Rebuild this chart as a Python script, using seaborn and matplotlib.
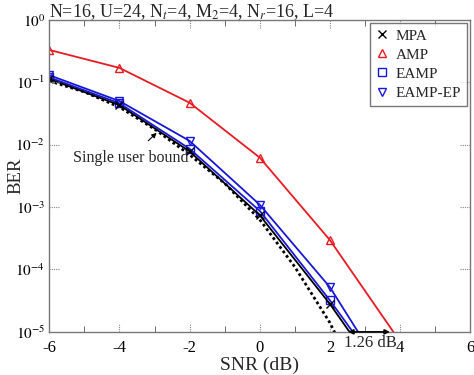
import matplotlib
matplotlib.use("Agg")
import matplotlib.pyplot as plt
from matplotlib.lines import Line2D
import seaborn as sns
import pandas as pd

snr = [-6, -4, -2, 0, 2, 4]
mpa = [0.113, 0.043, 0.0078, 7.4e-4, 2.8e-5, 7e-7]
amp = [0.33, 0.17, 0.047, 0.0062, 2.96e-4, 7e-6]
eamp = [0.12, 0.046, 0.0086, 8.7e-4, 3.2e-5, 9e-7]
eamp_ep = [0.13, 0.05, 0.0115, 1.09e-3, 5.2e-5, 8.5e-7]

bound_snr = [-6, -5, -4, -3, -2, -1, 0, 1, 2, 3]
bound_ber = [0.105, 0.07, 0.04, 0.0178, 0.0069, 2.4e-3, 6.3e-4, 1.1e-4, 1.4e-5, 1e-6]

xticks = [-6, -4, -2, 0, 2, 4, 6]
minor_xticks = [-5, -3, -1, 1, 3, 5]
yticks = [1e0, 1e-1, 1e-2, 1e-3, 1e-4, 1e-5]
ytick_labels = ["$10^{0}$", "$10^{-1}$", "$10^{-2}$", "$10^{-3}$", "$10^{-4}$", "$10^{-5}$"]

sns.set_style("white")
plt.rcParams["font.family"] = ["Liberation Serif", "DejaVu Serif"]
plt.rcParams["mathtext.fontset"] = "stix"
plt.rcParams["axes.unicode_minus"] = False

RED = "#ea1a22"
BLUE = "#1717d8"

fig, ax = plt.subplots(figsize=(4.74, 3.75), dpi=100)
fig.subplots_adjust(left=0.104, right=0.992, top=0.947, bottom=0.115)

df = pd.DataFrame({"snr": snr, "MPA": mpa, "AMP": amp, "EAMP": eamp, "EAMP-EP": eamp_ep})
bound = pd.DataFrame({"snr": bound_snr, "ber": bound_ber})

sns.lineplot(data=bound, x="snr", y="ber", ax=ax, color="black", linestyle=(0, (1, 1)),
             linewidth=2.0, estimator=None, sort=False)
styles = [("EAMP-EP", BLUE, "v"), ("EAMP", BLUE, "s"), ("MPA", "black", "x"), ("AMP", RED, "^")]
for name, col, mk in styles:
    sns.lineplot(data=df, x="snr", y=name, ax=ax, color=col, marker=mk, markersize=6,
                 markerfacecolor="none", markeredgecolor=col, markeredgewidth=1.0,
                 linewidth=1.3, estimator=None, sort=False)

ax.set_yscale("log")
ax.set_xlim(-6, 6)
ax.set_ylim(1e-5, 1e0)
ax.set_xticks(xticks)
ax.set_xticklabels([str(v) for v in xticks])
ax.set_yticks(yticks)
ax.set_yticklabels(ytick_labels)
ax.minorticks_off()
ax.set_xticks(minor_xticks, minor=True)
ax.tick_params(axis="both", which="major", length=0, labelsize=12, colors="black")
ax.tick_params(axis="x", which="major", pad=6)
ax.tick_params(axis="y", which="major", pad=3, labelsize=11)
ax.tick_params(axis="x", which="minor", length=4, direction="in", color="#555555",
               top=True, bottom=True)

# dotted short major ticks
for xv in xticks[1:-1]:
    ax.plot([xv, xv], [0, 0.025], transform=ax.get_xaxis_transform(), color="#888888",
            linestyle=(0, (1, 1)), linewidth=0.8)
    ax.plot([xv, xv], [0.975, 1], transform=ax.get_xaxis_transform(), color="#888888",
            linestyle=(0, (1, 1)), linewidth=0.8)
for yv in yticks[1:-1]:
    ax.plot([0, 0.025], [yv, yv], transform=ax.get_yaxis_transform(), color="#888888",
            linestyle=(0, (1, 1)), linewidth=0.8)
    ax.plot([0.975, 1], [yv, yv], transform=ax.get_yaxis_transform(), color="#888888",
            linestyle=(0, (1, 1)), linewidth=0.8)

for s in ax.spines.values():
    s.set_color("#777777")
    s.set_linewidth(1.0)

ax.set_xlabel("SNR (dB)", fontsize=14, labelpad=0)
ax.set_ylabel("BER", fontsize=13.5)
ax.yaxis.set_label_coords(-0.058, 0.5)
ax.set_title(r"N=16, U=24, N$_t$=4, M$_2$=4, N$_r$=16, L=4", fontsize=13, loc="left",
             pad=2)

ax.annotate("Single user bound", xy=(-2.94, 10 ** -1.81), xytext=(-3.69, 10 ** -2.21),
            ha="center", va="center", fontsize=11.5,
            arrowprops=dict(arrowstyle="-|>", color="black", lw=0.8, mutation_scale=7,
                            shrinkA=6, shrinkB=0))
ax.annotate("", xy=(2.52, 1e-5), xytext=(3.71, 1e-5),
            arrowprops=dict(arrowstyle="<|-|>", color="black", lw=1.2, mutation_scale=7,
                            shrinkA=0, shrinkB=0), annotation_clip=False)
ax.text(3.14, 10 ** -5.05, "1.26 dB", ha="center", va="top", fontsize=12, clip_on=False)

handles = [Line2D([], [], color=c, marker=m, linestyle="none", markersize=5.5,
                  markerfacecolor="none", markeredgecolor=c)
           for _, c, m in [("MPA", "black", "x"), ("AMP", RED, "^"),
                           ("EAMP", BLUE, "s"), ("EAMP-EP", BLUE, "v")]]
leg = ax.legend(handles, ["MPA", "AMP", "EAMP", "EAMP-EP"], loc="upper right",
                fontsize=11, frameon=True, fancybox=False, handlelength=0.8,
                handletextpad=0.5, borderpad=0.4, labelspacing=0.35,
                borderaxespad=0.2)
leg.get_frame().set_edgecolor("#555555")
leg.get_frame().set_linewidth(1.0)

fig.savefig("out.png", dpi=100)
